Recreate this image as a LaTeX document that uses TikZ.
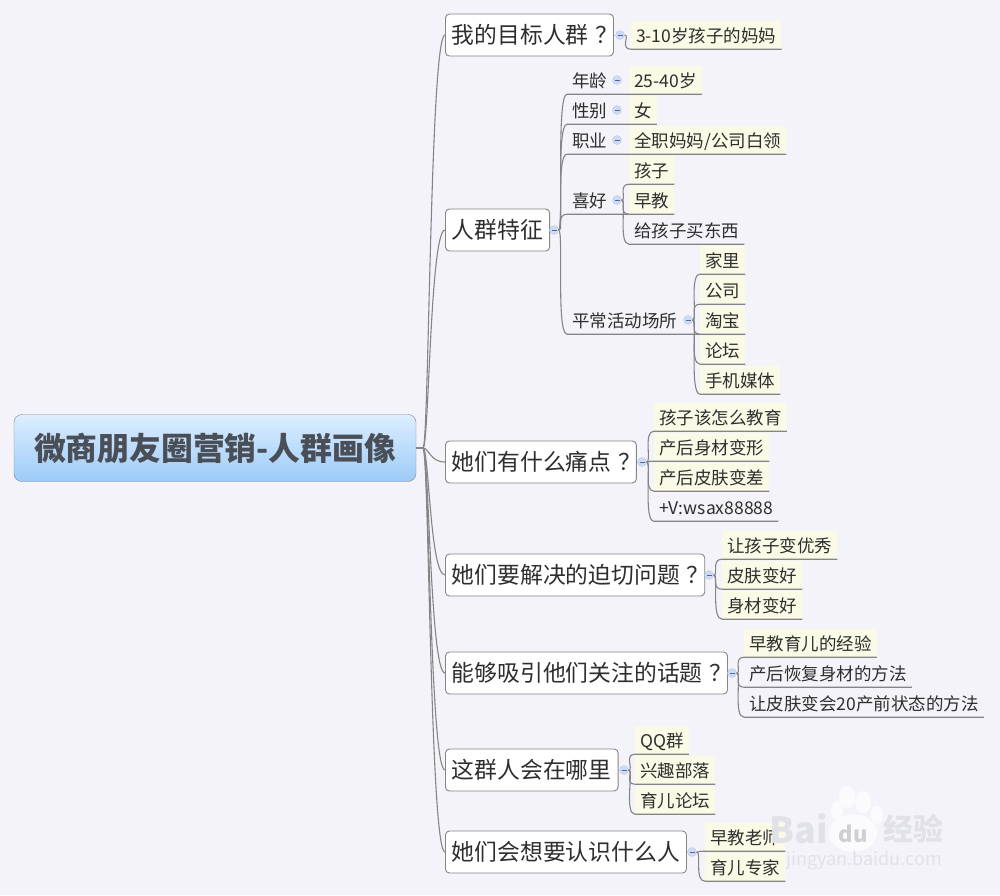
\documentclass[tikz,border=0pt]{standalone}
\usepackage{fontspec}
\setmainfont{Noto Sans CJK SC}
\usepackage{tikz}
\usetikzlibrary{positioning}
\definecolor{paper}{HTML}{F3F3F9}
\definecolor{inkgray}{HTML}{2E2E2E}
\definecolor{rootgray}{HTML}{4A4F57}
\definecolor{wiregray}{HTML}{858585}
\definecolor{noteyellow}{HTML}{FBFAE6}
\definecolor{hubblue}{HTML}{CBDBF3}
\definecolor{rootlight}{HTML}{DDEEFF}
\definecolor{rootdeep}{HTML}{9CCBF8}
\definecolor{markgray}{HTML}{E1E1E8}
\tikzstyle{rootbox}=[draw=wiregray,rounded corners=8pt,top color=rootlight,bottom color=rootdeep,minimum width=402pt,minimum height=67pt,text=rootgray,font=\fontsize{31.8}{36}\selectfont\bfseries]
\tikzstyle{topicbox}=[draw=wiregray,line width=.9pt,fill=white,rounded corners=4pt,anchor=west,inner xsep=6.5pt,inner ysep=0pt,minimum height=42pt,text=inkgray,font=\fontsize{22.8}{26}\selectfont]
\tikzstyle{plainleaf}=[anchor=west,inner xsep=5pt,inner ysep=6pt,text height=15pt,text depth=1pt,text=inkgray,font=\fontsize{17.5}{20}\selectfont]
\tikzstyle{noteleaf}=[plainleaf,fill=noteyellow]
\tikzstyle{hubdot}=[circle,draw=hubblue!85!gray,fill=hubblue,minimum size=9pt,inner sep=0pt,path picture={\draw[blue!25!gray,line width=.6pt] ([xshift=-2.5pt]path picture bounding box.center) -- ([xshift=2.5pt]path picture bounding box.center);}]
\tikzstyle{branchline}=[draw=wiregray,line width=1.1pt]
\tikzstyle{hublink}=[draw=hubblue!70!gray,line width=.8pt]
\newcommand{\branchto}[2]{\draw[branchline] (#1.east) .. controls +(5,0) and +(-11,0) .. (#2.south west) -- (#2.south east);}
\newcommand{\topicto}[1]{\draw[branchline] (rootstub) .. controls +(6,0) and +(-15,0) .. (#1.west);}
\newcommand{\qmark}{\kern.3em？\kern-.5em}
\begin{document}
\begin{tikzpicture}[x=1pt,y=-1pt]
    \useasboundingbox (0,0) rectangle (1000,895);
    \fill[paper] (0,0) rectangle (1000,895);

    \node [rootbox] (root) at (215,448) {微商朋友圈营销-人群画像};
    \coordinate (rootstub) at (423,448);
    \draw[branchline] (root.east) -- (rootstub);

    \node [topicbox] (target) at (445,35) {我的目标人群\qmark};
    \node [topicbox] (traits) at (445,230) {人群特征};
    \node [topicbox] (pains) at (445,462) {她们有什么痛点\qmark};
    \node [topicbox] (urgent) at (445,575) {她们要解决的迫切问题\qmark};
    \node [topicbox] (topics) at (445,673) {能够吸引他们关注的话题\qmark};
    \node [topicbox] (where) at (445,770) {这群人会在哪里};
    \node [topicbox] (whom) at (445,852) {她们会想要认识什么人};

    \topicto{target}
    \topicto{traits}
    \topicto{pains}
    \topicto{urgent}
    \topicto{topics}
    \topicto{where}
    \topicto{whom}

    % target
    \node [hubdot] (targethub) at (620,35) {};
    \draw[hublink] (target.east) -- (targethub);
    \node [noteleaf] (moms) at (631,35) {3-10岁孩子的妈妈};
    \branchto{targethub}{moms}

    % traits
    \node [hubdot] (traitshub) at (554,230) {};
    \draw[hublink] (traits.east) -- (traitshub);
    \node [plainleaf] (age) at (567,80) {年龄};
    \node [plainleaf] (sex) at (567,110) {性别};
    \node [plainleaf] (job) at (567,140) {职业};
    \node [plainleaf] (like) at (567,200) {喜好};
    \node [plainleaf] (place) at (567,320) {平常活动场所};
    \node [hubdot] (agehub) at (617,80) {};
    \node [hubdot] (sexhub) at (617,110) {};
    \node [hubdot] (jobhub) at (617,140) {};
    \node [hubdot] (likehub) at (617,200) {};
    \node [hubdot] (placehub) at (688,320) {};
    \node [noteleaf] (ageval) at (629,80) {25-40岁};
    \node [noteleaf] (sexval) at (629,110) {女};
    \node [noteleaf] (jobval) at (629,140) {全职妈妈/公司白领};
    \node [noteleaf] (likekid) at (629,170) {孩子};
    \node [noteleaf] (likeedu) at (629,200) {早教};
    \node [plainleaf] (likebuy) at (629,230) {给孩子买东西};
    \node [noteleaf] (home) at (700,260) {家里};
    \node [noteleaf] (office) at (700,290) {公司};
    \node [noteleaf] (taobao) at (700,320) {淘宝};
    \node [noteleaf] (forum) at (700,350) {论坛};
    \node [noteleaf] (media) at (700,380) {手机媒体};
    \draw[branchline] (traitshub.east) .. controls +(5,0) and +(-11,0) .. (age.south west) -- (ageval.south east);
    \draw[branchline] (traitshub.east) .. controls +(5,0) and +(-11,0) .. (sex.south west) -- (sexval.south east);
    \draw[branchline] (traitshub.east) .. controls +(5,0) and +(-11,0) .. (job.south west) -- (jobval.south east);
    \draw[branchline] (traitshub.east) .. controls +(5,0) and +(-11,0) .. (like.south west) -- (likeedu.south west);
    \draw[branchline] (traitshub.east) .. controls +(5,0) and +(-11,0) .. (place.south west) -- (taobao.south west);
    \branchto{likehub}{likekid}
    \branchto{likehub}{likeedu}
    \branchto{likehub}{likebuy}
    \branchto{placehub}{home}
    \branchto{placehub}{office}
    \branchto{placehub}{taobao}
    \branchto{placehub}{forum}
    \branchto{placehub}{media}

    % pains
    \node [hubdot] (painshub) at (642,462) {};
    \draw[hublink] (pains.east) -- (painshub);
    \node [noteleaf] (painedu) at (654,417) {孩子该怎么教育};
    \node [noteleaf] (painbody) at (654,447) {产后身材变形};
    \node [noteleaf] (painskin) at (654,477) {产后皮肤变差};
    \node [plainleaf] (painid) at (654,507) {+V:wsax88888};
    \branchto{painshub}{painedu}
    \branchto{painshub}{painbody}
    \branchto{painshub}{painskin}
    \branchto{painshub}{painid}

    % urgent
    \node [hubdot] (urgenthub) at (709,575) {};
    \draw[hublink] (urgent.east) -- (urgenthub);
    \node [noteleaf] (urgentkid) at (722,545) {让孩子变优秀};
    \node [noteleaf] (urgentskin) at (722,575) {皮肤变好};
    \node [noteleaf] (urgentbody) at (722,605) {身材变好};
    \branchto{urgenthub}{urgentkid}
    \branchto{urgenthub}{urgentskin}
    \branchto{urgenthub}{urgentbody}

    % topics
    \node [hubdot] (topicshub) at (732,673) {};
    \draw[hublink] (topics.east) -- (topicshub);
    \node [noteleaf] (topicedu) at (744,643) {早教育儿的经验};
    \node [plainleaf] (topicbody) at (744,673) {产后恢复身材的方法};
    \node [plainleaf] (topicskin) at (744,703) {让皮肤变会20产前状态的方法};
    \branchto{topicshub}{topicedu}
    \branchto{topicshub}{topicbody}
    \branchto{topicshub}{topicskin}

    % where
    \node [hubdot] (wherehub) at (624,770) {};
    \draw[hublink] (where.east) -- (wherehub);
    \node [noteleaf] (whereqq) at (635,740) {QQ群};
    \node [noteleaf] (wheretribe) at (635,770) {兴趣部落};
    \node [noteleaf] (whereforum) at (635,800) {育儿论坛};
    \branchto{wherehub}{whereqq}
    \branchto{wherehub}{wheretribe}
    \branchto{wherehub}{whereforum}

    % whom
    \node [hubdot] (whomhub) at (692,852) {};
    \draw[hublink] (whom.east) -- (whomhub);
    \node [noteleaf] (whomteacher) at (705,837) {早教老师};
    \node [noteleaf] (whomexpert) at (705,867) {育儿专家};
    \branchto{whomhub}{whomteacher}
    \branchto{whomhub}{whomexpert}

    % watermark
    \fill[white,opacity=.75] (847,797) ellipse (8pt and 11pt);
    \fill[white,opacity=.75] (863,802) ellipse (8pt and 11pt);
    \fill[white,opacity=.75] (837,810) ellipse (6pt and 9pt);
    \fill[white,opacity=.75] (877,815) ellipse (6pt and 9pt);
    \fill[white,opacity=.75] (853,833) ellipse (24pt and 19pt);
    \node [text=markgray,font=\fontsize{36}{38}\selectfont\bfseries,inner sep=0pt] (markbai) at (799,829) {Bai};
    \node [text=markgray!80!gray,font=\fontsize{22}{24}\selectfont\bfseries,inner sep=0pt] (markdu) at (853,834) {du};
    \node [text=markgray,font=\fontsize{30}{32}\selectfont\bfseries,inner sep=0pt] (markjy) at (913,829) {经验};
    \node [text=markgray,font=\fontsize{18}{20}\selectfont,inner sep=0pt] (markurl) at (864,861) {jingyan.baidu.com};
\end{tikzpicture}
\end{document}
